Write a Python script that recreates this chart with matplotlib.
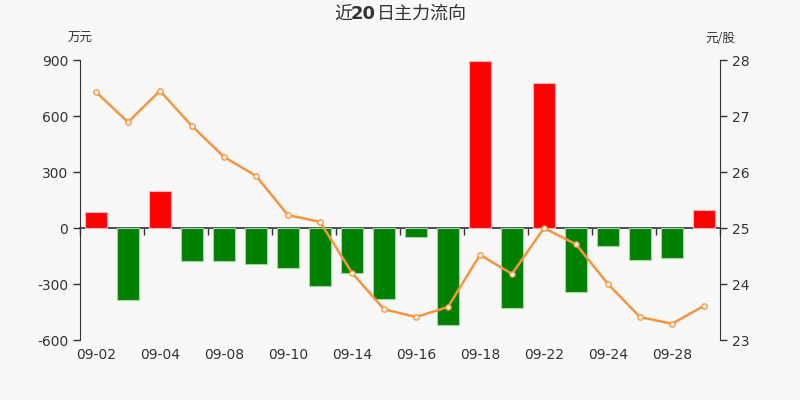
import matplotlib.pyplot as plt
import numpy as np

plt.rcParams['font.family'] = ['DejaVu Sans', 'Noto Sans CJK SC']
plt.rcParams['axes.unicode_minus'] = False

dates = ['09-02', '09-03', '09-04', '09-07', '09-08', '09-09', '09-10', '09-11',
         '09-14', '09-15', '09-16', '09-17', '09-18', '09-21', '09-22', '09-23',
         '09-24', '09-25', '09-28', '09-29']
flow = [85, -386, 198, -177, -177, -193, -214, -311, -241, -380,
        -48, -520, 895, -429, 777, -343, -96, -171, -161, 96]
price = [27.43, 26.89, 27.45, 26.82, 26.27, 25.93, 25.23, 25.11, 24.20, 23.55,
         23.41, 23.59, 24.52, 24.18, 25.00, 24.71, 24.00, 23.41, 23.29, 23.61]

bg = '#f8f8f8'
txt = '#333333'

fig = plt.figure(figsize=(8, 4), dpi=100, facecolor=bg)
ax = fig.add_axes([0.1, 0.15, 0.8, 0.7])
ax.set_facecolor(bg)

x = np.arange(len(dates))
colors = ['#ff0000' if v >= 0 else '#008000' for v in flow]
edges = ['#ffb3b3' if v >= 0 else '#9fd89f' for v in flow]
ax.bar(x, flow, width=0.7, color=colors, edgecolor=edges, linewidth=0.8, zorder=2)

ax.set_xlim(-0.5, len(dates) - 0.5)
ax.set_ylim(-600, 900)
ax.set_yticks([-600, -300, 0, 300, 600, 900])
ax.set_xticks(x[::2])
ax.set_xticklabels(dates[::2])
ax.tick_params(axis='x', length=0, pad=6, labelsize=10, labelcolor=txt)
ax.tick_params(axis='y', length=5, width=1, color=txt, labelsize=10, labelcolor=txt)
for s in ['top', 'bottom', 'right']:
    ax.spines[s].set_visible(False)
ax.spines['left'].set_color(txt)

# zero line with category-boundary ticks
zero = ax.secondary_xaxis(600 / 1500)
zero.set_xticks(np.arange(-0.5, len(dates), 2))
zero.set_xticklabels([])
zero.tick_params(length=5, width=1, color=txt, direction='out')
zero.spines['bottom'].set_color(txt)
zero.spines['bottom'].set_linewidth(1.2)

ax2 = ax.twinx()
ax2.plot(x, price, color='#f7953f', linewidth=1.8, marker='o', markersize=3.8,
         markerfacecolor='white', markeredgecolor='#f7953f', markeredgewidth=1, zorder=3)
ax2.set_ylim(23, 28)
ax2.set_yticks([23, 24, 25, 26, 27, 28])
ax2.tick_params(axis='y', length=5, width=1, color=txt, labelsize=10, labelcolor=txt)
for s in ['top', 'bottom', 'left']:
    ax2.spines[s].set_visible(False)
ax2.spines['right'].set_color(txt)

# title: "近" + bold "20" + "日主力流向"
cjk = ['Noto Sans CJK SC']
fig.text(0.4175, 0.965, '近', ha='left', va='center', fontsize=13, color=txt, family=cjk)
fig.text(0.4385, 0.965, '20', ha='left', va='center', fontsize=13, color=txt,
         fontweight='bold', family=['DejaVu Sans'])
fig.text(0.4715, 0.965, '日主力流向', ha='left', va='center', fontsize=13, color=txt, family=cjk)

fig.text(0.1, 0.903, '万元', ha='center', va='center', fontsize=9, color=txt, family=cjk)
fig.text(0.9, 0.903, '元/股', ha='center', va='center', fontsize=9, color=txt, family=cjk)

fig.savefig('out.png', dpi=100, facecolor=bg)
